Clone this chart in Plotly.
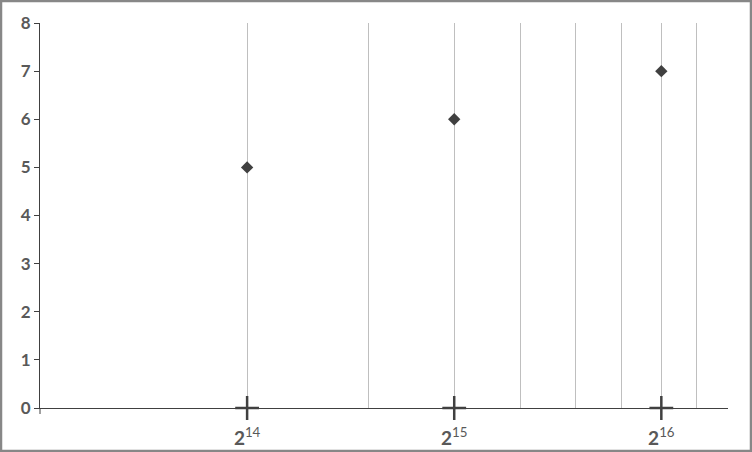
import math
import plotly.graph_objects as go

# data
x_vals = [16384, 32768, 65536]
y_vals = [5, 6, 7]
x_labels = ["<b>2</b><sup>14</sup>", "<b>2</b><sup>15</sup>", "<b>2</b><sup>16</sup>"]
grid_x = [8192 * k for k in range(1, 11)]
y_ticks = [0, 1, 2, 3, 4, 5, 6, 7, 8]

W, H = 752, 452
L, R, T, B = 40, 24, 23, 44
pw, ph = W - L - R, H - T - B

fig = go.Figure()

# cross marks on the x axis
fig.add_trace(go.Scatter(
    x=x_vals, y=[0] * len(x_vals), mode="markers",
    marker=dict(symbol="cross-thin", size=17, line=dict(width=2.5, color="#404040")),
    hoverinfo="skip", cliponaxis=False,
))

fig.add_trace(go.Scatter(
    x=x_vals, y=y_vals, mode="markers",
    marker=dict(symbol="diamond", size=9.5, color="#404040"),
    cliponaxis=False,
))

fig.update_xaxes(
    type="log",
    range=[math.log10(grid_x[0]), math.log10(grid_x[-1])],
    tickvals=x_vals,
    ticktext=x_labels,
    ticks="",
    ticklabelstandoff=13,
    automargin=False,
    showgrid=True, gridcolor="#BFBFBF", gridwidth=1,
    minor=dict(tickvals=grid_x, showgrid=True, gridcolor="#BFBFBF", gridwidth=1, ticks=""),
    showline=True, linecolor="#404040", linewidth=1,
    zeroline=False,
    tickfont=dict(family="Lato", size=19, color="#595959"),
)
fig.update_yaxes(
    range=[0, 8],
    tickvals=y_ticks,
    ticks="outside", ticklen=5, tickcolor="#404040",
    automargin=False,
    showgrid=False, zeroline=False,
    showline=True, linecolor="#404040", linewidth=1,
    tickfont=dict(family="Lato", size=17, color="#595959", weight="bold"),
)

# y axis line runs a little past the x axis
fig.add_shape(
    type="line", xref="paper", yref="paper",
    x0=0, x1=0, y0=-6 / ph, y1=0,
    line=dict(color="#404040", width=1),
)

# outer chart border
fig.add_shape(
    type="rect", xref="paper", yref="paper",
    x0=-(L - 1) / pw, x1=(pw + R - 1) / pw,
    y0=-(B - 1) / ph, y1=(ph + T - 1) / ph,
    line=dict(color="#878787", width=2.5),
)

fig.update_layout(
    width=W, height=H,
    margin=dict(l=L, r=R, t=T, b=B),
    paper_bgcolor="white", plot_bgcolor="white",
    showlegend=False,
    font=dict(family="Lato", color="#595959"),
)

fig.write_html(
    "out.html",
    config={"responsive": False, "displayModeBar": False},
    post_script="document.body.style.margin='0';",
)
